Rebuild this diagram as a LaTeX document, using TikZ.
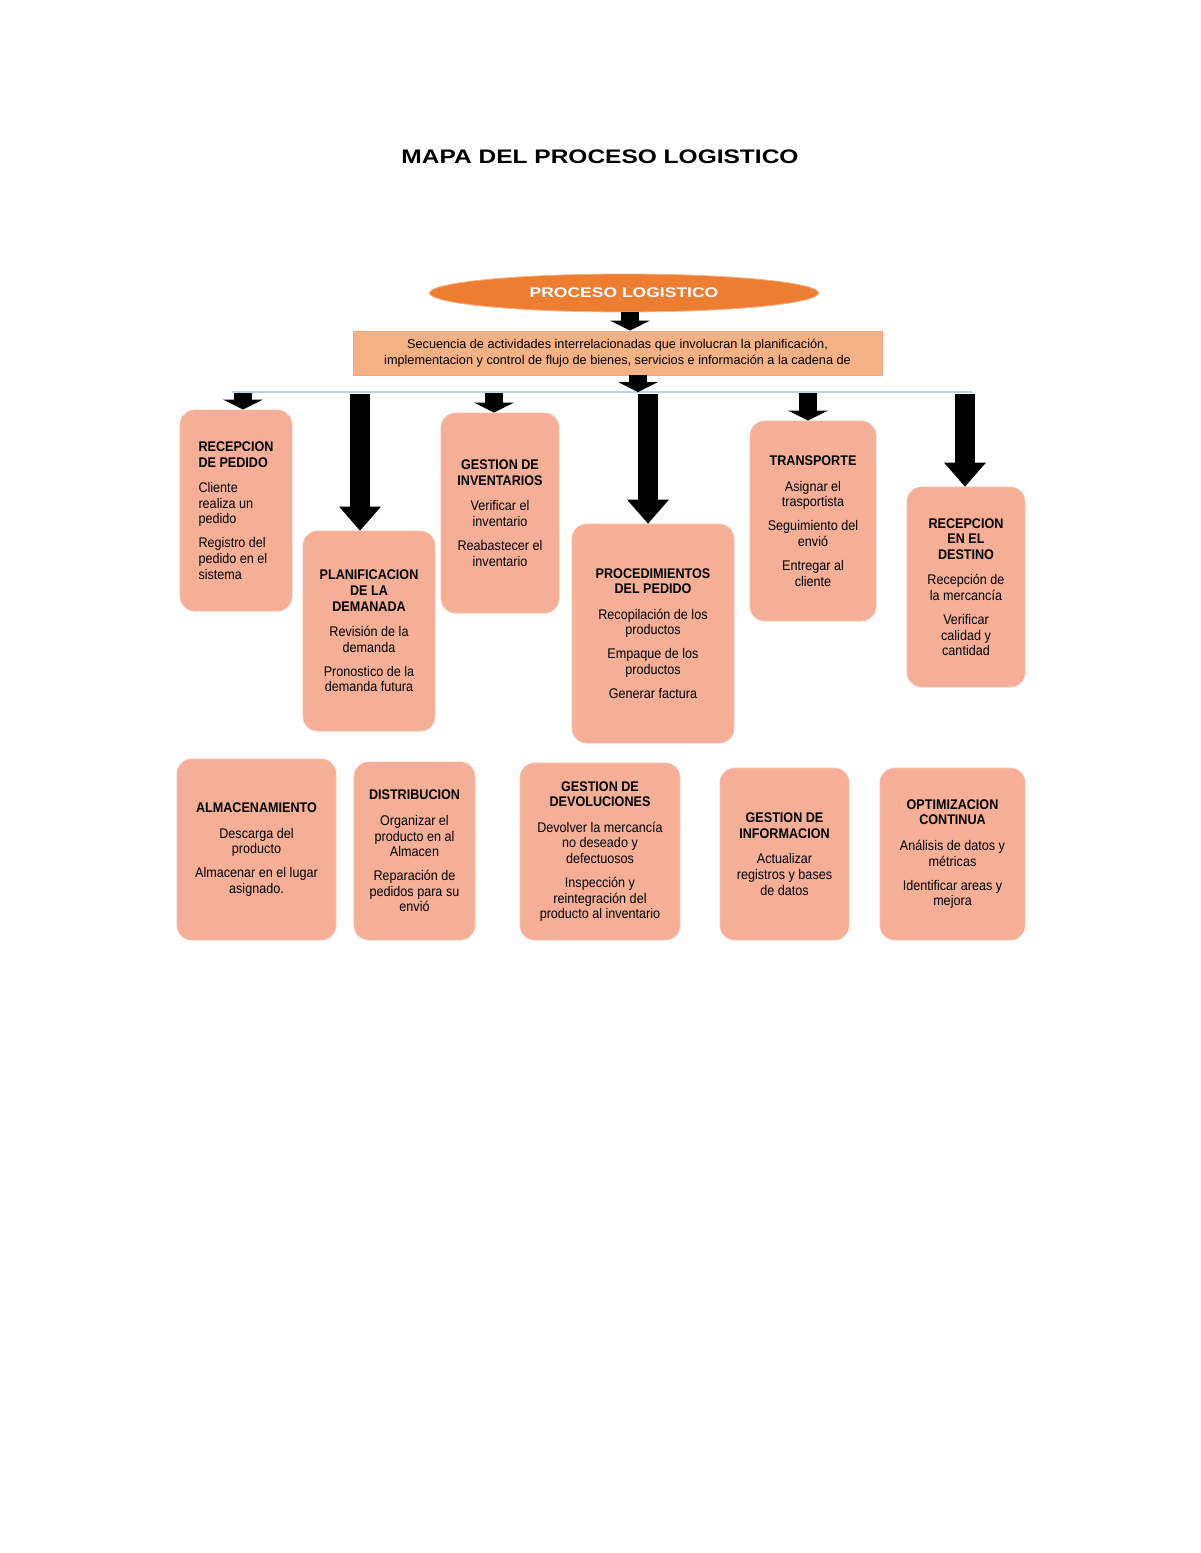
\documentclass[tikz,border=0pt]{standalone}
\usepackage{fontspec}
\setmainfont{Liberation Sans}
\newfontfamily\boxfont{Liberation Sans}[FakeStretch=0.9]
\newfontfamily\widefont{Liberation Sans}[FakeStretch=1.25]
\usepackage{tikz}
\usetikzlibrary{arrows.meta,positioning,shapes.geometric}
\usepackage{xcolor}
\definecolor{procorange}{HTML}{ED7D31}
\definecolor{seqfill}{HTML}{F4B183}
\definecolor{boxfill}{HTML}{F5AF97}
\definecolor{barline}{HTML}{BDD0E6}

\begin{document}
\begin{tikzpicture}[x=0.5pt, y=-0.5pt,
  stepbox/.style={
    rectangle, rounded corners=7.5pt, fill=boxfill,
    draw=boxfill!80!white, inner sep=0pt, align=center,
    font=\boxfont\fontsize{7}{7.8}\selectfont
  },
  shortarrow/.style={line width=9pt, black,
    -{Triangle[width=20pt, length=5pt, line width=0pt]}},
  longarrow/.style={line width=10pt, black,
    -{Triangle[width=21pt, length=12pt, line width=0pt]}},
  bar/.style={line width=0.8pt, barline}
]

% Page frame
\path[fill=white, use as bounding box] (0,0) rectangle (1200,1553);

% Title
\node[font=\widefont\bfseries\fontsize{9.8}{12}\selectfont]
  (title) at (600,157) {MAPA DEL PROCESO LOGISTICO};

% Main process and its definition
\node[ellipse, fill=procorange, draw=procorange!60!white,
      minimum width=194.5pt, minimum height=19pt, inner sep=0pt,
      text=white, font=\widefont\bfseries\fontsize{7}{8}\selectfont]
  (proc) at (624,293) {PROCESO LOGISTICO};
\node[rectangle, fill=seqfill, draw=seqfill!85!procorange,
      minimum width=264.5pt, minimum height=22pt, inner sep=0pt,
      align=center, font=\fontsize{6.35}{8}\selectfont]
  (seq) at (617.5,353)
  {Secuencia de actividades interrelacionadas que involucran la planificación,\\
   implementacion y control de flujo de bienes, servicios e información a la cadena de};

% First row of activities
\node[stepbox, align=left, minimum width=56pt, minimum height=100.5pt]
  (recped) at (236,510.5)
  {\textbf{RECEPCION}\\\textbf{DE PEDIDO}\\[5pt]
   Cliente\\realiza un\\pedido\\[4.2pt]
   Registro del\\pedido en el\\sistema};
\node[stepbox, minimum width=66pt, minimum height=100pt]
  (plandem) at (369,631)
  {\textbf{PLANIFICACION}\\\textbf{DE LA}\\\textbf{DEMANADA}\\[5pt]
   Revisión de la\\demanda\\[4.2pt]
   Pronostico de la\\demanda futura};
\node[stepbox, minimum width=59pt, minimum height=100pt]
  (gesinv) at (500,513)
  {\textbf{GESTION DE}\\\textbf{INVENTARIOS}\\[5pt]
   Verificar el\\inventario\\[4.2pt]
   Reabastecer el\\inventario};
\node[stepbox, minimum width=81pt, minimum height=109.5pt]
  (procped) at (653,633.5)
  {\textbf{PROCEDIMIENTOS}\\\textbf{DEL PEDIDO}\\[5pt]
   Recopilación de los\\productos\\[4.2pt]
   Empaque de los\\productos\\[4.2pt]
   Generar factura};
\node[stepbox, minimum width=63pt, minimum height=100pt]
  (transp) at (813,521)
  {\textbf{TRANSPORTE}\\[5pt]
   Asignar el\\trasportista\\[4.2pt]
   Seguimiento del\\envió\\[4.2pt]
   Entregar al\\cliente};
\node[stepbox, minimum width=59pt, minimum height=100pt]
  (recdest) at (966,587)
  {\textbf{RECEPCION}\\\textbf{EN EL}\\\textbf{DESTINO}\\[5pt]
   Recepción de\\la mercancía\\[4.2pt]
   Verificar\\calidad y\\cantidad};

% Second row of activities
\node[stepbox, minimum width=79.5pt, minimum height=90.5pt]
  (almac) at (256.5,849.5)
  {\textbf{ALMACENAMIENTO}\\[5pt]
   Descarga del\\producto\\[4.2pt]
   Almacenar en el lugar\\asignado.};
\node[stepbox, minimum width=60.5pt, minimum height=89pt]
  (distr) at (414.5,851)
  {\textbf{DISTRIBUCION}\\[5pt]
   Organizar el\\producto en al\\Almacen\\[4.2pt]
   Reparación de\\pedidos para su\\envió};
\node[stepbox, minimum width=80pt, minimum height=88.5pt]
  (gesdev) at (600,851.5)
  {\textbf{GESTION DE}\\\textbf{DEVOLUCIONES}\\[5pt]
   Devolver la mercancía\\no deseado y\\defectuosos\\[4.2pt]
   Inspección y\\reintegración del\\producto al inventario};
\node[stepbox, minimum width=64.5pt, minimum height=86pt]
  (gesinf) at (784.5,854)
  {\textbf{GESTION DE}\\\textbf{INFORMACION}\\[5pt]
   Actualizar\\registros y bases\\de datos};
\node[stepbox, minimum width=72.5pt, minimum height=86pt]
  (optcon) at (952.5,854)
  {\textbf{OPTIMIZACION}\\\textbf{CONTINUA}\\[5pt]
   Análisis de datos y\\métricas\\[4.2pt]
   Identificar areas y\\mejora};

% Distribution bar
\coordinate (barL) at (232,392);
\coordinate (barR) at (972,392);
\coordinate (hub)  at (638,392);
\draw[bar] (barL) -- (barR);

% Arrows from the top
\coordinate (ptop) at (630,312);
\draw[shortarrow] (ptop) -- (ptop |- seq.north);
\draw[shortarrow] (seq.south -| hub) -- (hub);

% Arrows down to the first row
\coordinate (t1) at (243,393);
\coordinate (t2) at (360,394);
\coordinate (t3) at (494,393);
\coordinate (t4) at (648,394);
\coordinate (t5) at (808,393);
\coordinate (t6) at (965,394);
\draw[shortarrow] (t1) -- (t1 |- recped.north);
\draw[longarrow]  (t2) -- (t2 |- plandem.north);
\draw[shortarrow] (t3) -- (t3 |- gesinv.north);
\draw[longarrow]  (t4) -- (t4 |- procped.north);
\draw[shortarrow] (t5) -- (t5 |- transp.north);
\draw[longarrow]  (t6) -- (t6 |- recdest.north);

\end{tikzpicture}
\end{document}
